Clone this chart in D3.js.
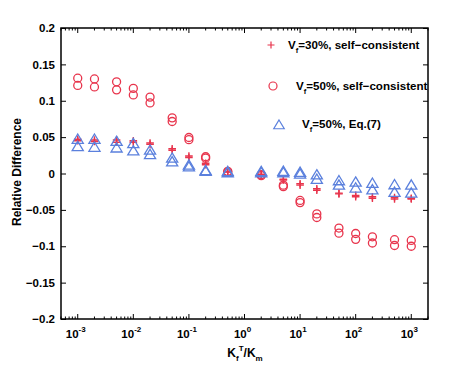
<!DOCTYPE html>
<html><head><meta charset="utf-8">
<script src="https://cdn.jsdelivr.net/npm/d3@7"></script>
<style>
body{margin:0;background:#fff;}
svg text{font-family:"Liberation Sans",Arial,sans-serif;fill:#000;}
</style></head>
<body><svg id="c" width="474" height="366"></svg>
<script>
// ---- data ----
const xValues = [1e-3,2e-3,5e-3,1e-2,2e-2,5e-2,0.1,0.2,0.5,2,5,10,20,50,100,200,500,1000];
// Vf=30%, self-consistent (two runs)
const plusA = [0.047,0.046,0.046,0.045,0.042,0.034,0.024,0.014,0.0025,-0.001,-0.008,-0.014,-0.021,-0.027,-0.030,-0.032,-0.033,-0.034];
const plusB = [0.045,0.044,0.043,0.043,0.040,0.032,0.022,0.012,0.002,-0.002,-0.009,-0.016,-0.023,-0.028,-0.032,-0.034,-0.035,-0.035];
// Vf=50%, self-consistent (two runs)
const circA = [0.131,0.130,0.126,0.117,0.105,0.0765,0.0495,0.023,0.003,-0.0015,-0.016,-0.037,-0.0555,-0.075,-0.0825,-0.087,-0.091,-0.092];
const circB = [0.121,0.119,0.115,0.108,0.097,0.0715,0.0465,0.021,0.002,-0.003,-0.018,-0.040,-0.0605,-0.082,-0.0905,-0.0955,-0.099,-0.100];
// Vf=50%, Eq.(7) (two runs)
const triA = [0.047,0.047,0.044,0.041,0.032,0.021,0.0115,0.004,0.0025,0.0025,0.003,0.0015,-0.002,-0.010,-0.012,-0.0135,-0.0155,-0.016];
const triB = [0.037,0.036,0.035,0.031,0.026,0.016,0.009,0.003,0.001,0.001,0.001,-0.001,-0.008,-0.016,-0.020,-0.0225,-0.026,-0.027];
const yTicks = [0.2,0.15,0.1,0.05,0,-0.05,-0.1,-0.15,-0.2];
const yTickLabels = ["0.2","0.15","0.1","0.05","0","\u22120.05","\u22120.1","\u22120.15","\u22120.2"];
const xDecades = [-3,-2,-1,0,1,2,3];
const legendLabels = [["V","f","=30%, self\u2212consistent"],["V","f","=50%, self\u2212consistent"],["V","f","=50%, Eq.(7)"]];

const red = "#e8344c", blue = "#5b80dd";
const svg = d3.select("#c");
const L=61, R=428, T=28, B=319;
const x = d3.scaleLog().domain([5e-4,2e3]).range([L,R]);
const y = d3.scaleLinear().domain([-0.2,0.2]).range([B,T]);

// frame
svg.append("rect").attr("x",L).attr("y",T).attr("width",R-L).attr("height",B-T)
  .attr("fill","none").attr("stroke","#000").attr("stroke-width",1.5);

// y ticks & labels
const yAxisL = d3.axisLeft(y).tickValues(yTicks).tickSizeInner(-5).tickSizeOuter(0).tickPadding(8)
  .tickFormat((d,i)=>yTickLabels[i]);
const gy = svg.append("g").attr("transform",`translate(${L},0)`).call(yAxisL);
gy.select(".domain").remove();
gy.selectAll("line").attr("stroke","#000").attr("stroke-width",1);
gy.selectAll("text").attr("font-size",11.5).attr("font-weight","bold").attr("x",-6);
const gyR = svg.append("g").attr("transform",`translate(${R},0)`)
  .call(d3.axisRight(y).tickValues(yTicks).tickSizeInner(-5).tickSizeOuter(0).tickFormat(""));
gyR.select(".domain").remove();
gyR.selectAll("line").attr("stroke","#000");

// x ticks (major + minor) bottom & top
const minor = [];
for (let e=-4;e<=3;e++) for (let k=2;k<=9;k++){ const v=k*Math.pow(10,e); if(v>=5e-4&&v<=2e3) minor.push(v); }
const majors = xDecades.map(e=>Math.pow(10,e));
[[B,-1],[T,1]].forEach(([yy,dir])=>{
  svg.append("g").selectAll("line").data(majors).join("line")
    .attr("x1",d=>x(d)).attr("x2",d=>x(d)).attr("y1",yy).attr("y2",yy+dir*5).attr("stroke","#000");
  svg.append("g").selectAll("line").data(minor).join("line")
    .attr("x1",d=>x(d)).attr("x2",d=>x(d)).attr("y1",yy).attr("y2",yy+dir*2.5).attr("stroke","#000");
});
const xl = svg.append("g").selectAll("text").data(xDecades).join("text")
  .attr("x",d=>x(Math.pow(10,d))-2).attr("y",338).attr("text-anchor","middle")
  .attr("font-size",11.5).attr("font-weight","bold");
xl.append("tspan").text("10");
xl.append("tspan").attr("dy",-6).attr("font-size",8).text(d=>d);

// axis titles
const xt = svg.append("text").attr("x",245).attr("y",357).attr("text-anchor","middle")
  .attr("font-size",12).attr("font-weight","bold");
xt.append("tspan").text("K");
xt.append("tspan").attr("dy",4).attr("font-size",8).text("f");
xt.append("tspan").attr("dy",-10).attr("font-size",8).text("T");
xt.append("tspan").attr("dy",6).text("/K");
xt.append("tspan").attr("dy",4).attr("font-size",8).text("m");
svg.append("text").attr("transform","translate(21,172) rotate(-90)").attr("text-anchor","middle")
  .attr("font-size",12).attr("font-weight","bold").text("Relative Difference");

// marker painters
const plusPath = (cx,cy,s)=>`M${cx-s},${cy}H${cx+s}M${cx},${cy-s}V${cy+s}`;
const triPath = (cx,cy,s)=>`M${cx},${cy-s}L${cx+s*1.05},${cy+s*0.75}L${cx-s*1.05},${cy+s*0.75}Z`;
function drawCircles(vals){
  svg.append("g").selectAll("circle").data(vals).join("circle")
    .attr("cx",(d,i)=>x(xValues[i])).attr("cy",d=>y(d)).attr("r",4)
    .attr("fill","none").attr("stroke",red).attr("stroke-width",1.3);
}
function drawPlus(vals){
  svg.append("g").selectAll("path").data(vals).join("path")
    .attr("d",(d,i)=>plusPath(x(xValues[i]),y(d),3.8))
    .attr("fill","none").attr("stroke",red).attr("stroke-width",1.4);
}
function drawTri(vals){
  svg.append("g").selectAll("path").data(vals).join("path")
    .attr("d",(d,i)=>triPath(x(xValues[i]),y(d),5.3))
    .attr("fill","none").attr("stroke",blue).attr("stroke-width",1.3);
}
drawPlus(plusA); drawPlus(plusB);
drawCircles(circA); drawCircles(circB);
drawTri(triA); drawTri(triB);

// legend
const legPos = [[271,45,288],[273,86,296],[279,124,302]];
svg.append("path").attr("d",plusPath(legPos[0][0],legPos[0][1],3.5)).attr("stroke",red).attr("stroke-width",1.2).attr("fill","none");
svg.append("circle").attr("cx",legPos[1][0]).attr("cy",legPos[1][1]).attr("r",4).attr("fill","none").attr("stroke",red).attr("stroke-width",1.2);
svg.append("path").attr("d",triPath(legPos[2][0],legPos[2][1]+1,5)).attr("stroke",blue).attr("stroke-width",1.2).attr("fill","none");
legendLabels.forEach((lab,i)=>{
  const t = svg.append("text").attr("x",legPos[i][2]).attr("y",legPos[i][1]+4)
    .attr("font-size",11.6).attr("font-weight","bold").attr("textLength", null);
  t.append("tspan").text(lab[0]);
  t.append("tspan").attr("dy",4).attr("font-size",7.5).text(lab[1]);
  t.append("tspan").attr("dy",-4).text(lab[2]);
});
</script></body></html>
